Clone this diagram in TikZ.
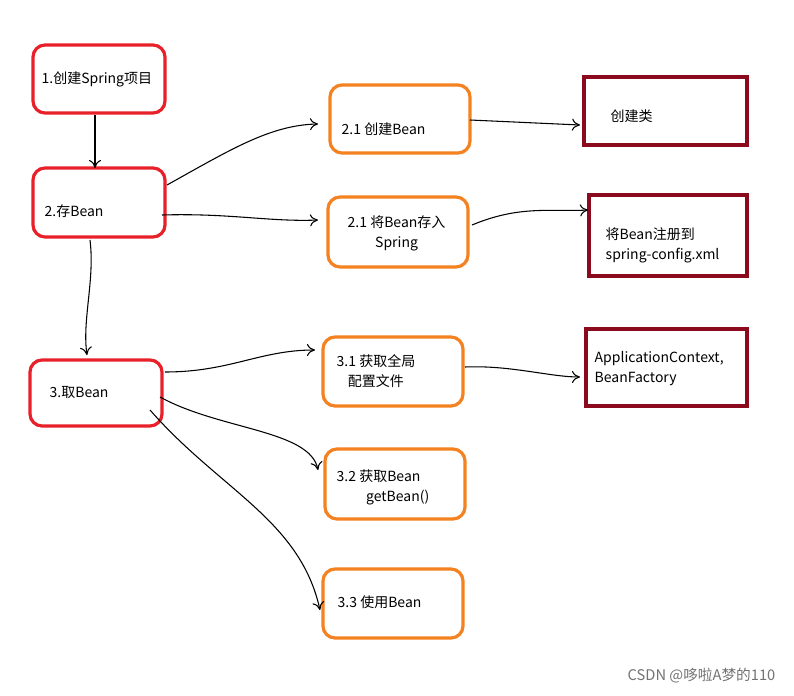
\documentclass[tikz,border=0pt]{standalone}
\usepackage{fontspec}
\setmainfont{Noto Sans CJK SC}
\usetikzlibrary{arrows.meta}
\definecolor{rd}{HTML}{E8202A}
\definecolor{og}{HTML}{F58220}
\definecolor{dr}{HTML}{8B0A1E}
\tikzset{
 px/.style={x=0.75pt,y=-0.75pt},
 redbox/.style={draw=rd,line width=2.4pt,rounded corners=9pt,inner sep=0pt},
 orbox/.style={draw=og,line width=2.4pt,rounded corners=9pt,inner sep=0pt},
 drbox/.style={draw=dr,line width=2.4pt,inner sep=0pt},
 lbl/.style={font=\fontsize{10.5pt}{15pt}\selectfont,align=left,anchor=west},
 conn/.style={line width=0.8pt,-{To[length=6pt,width=9pt]}}
}
\begin{document}
\begin{tikzpicture}[px]
\useasboundingbox (0,0) rectangle (794,696);
\fill[white] (0,0) rectangle (794,696);
% boxes
\draw[redbox] (33,45) rectangle (165,113); \coordinate (n1) at (99,79);
\draw[redbox] (33,168) rectangle (165,237);
\draw[redbox] (30,360) rectangle (162,426);
\draw[orbox] (330,85) rectangle (470,153);
\draw[orbox] (328,197) rectangle (468,267);
\draw[orbox] (323,337) rectangle (463,406);
\draw[orbox] (325,449) rectangle (465,519);
\draw[orbox] (323,569) rectangle (463,638);
\draw[drbox] (584,77) rectangle (747,145);
\draw[drbox] (589,195) rectangle (747,276);
\draw[drbox] (586,329) rectangle (747,406);
% labels
\node[lbl] (t1) at (37,79) {1.创建Spring项目};
\node[lbl] (t2) at (40,211) {2.存Bean};
\node[lbl] (t3) at (45,393) {3.取Bean};
\node[lbl] (t21) at (337,129) {2.1 创建Bean};
\node[lbl,align=center] (t22) at (343,233) {2.1 将Bean存入\\Spring};
\node[lbl,align=center] (t31) at (332,371) {3.1 获取全局\\配置文件};
\node[lbl,align=left] (t32) at (332,487) {3.2 获取Bean\\\hspace{2.1em}getBean()};
\node[lbl] (t33) at (333,602) {3.3 使用Bean};
\node[lbl] (d1) at (606,116) {创建类};
\node[lbl] (d2) at (601,245) {将Bean注册到\\spring-config.xml};
\node[lbl] (d3) at (590,369) {ApplicationContext,\\BeanFactory};
\node[anchor=east,text=black!55,font=\fontsize{11pt}{13pt}\selectfont] (wm) at (780,676) {CSDN @哆啦A梦的110};
% connectors
\coordinate (a1) at (95,115); \coordinate (b1) at (95,168);
\draw[conn] (a1) -- (b1);
\coordinate (a2) at (167,185); \coordinate (b2) at (318,124);
\draw[conn] (a2) .. controls (230,150) and (270,125) .. (b2);
\coordinate (a3) at (162,215); \coordinate (b3) at (318,220);
\draw[conn] (a3) .. controls (230,213) and (270,222) .. (b3);
\coordinate (a4) at (90,240); \coordinate (b4) at (87,355);
\draw[conn] (a4) .. controls (95,280) and (82,320) .. (b4);
\coordinate (a5) at (165,372); \coordinate (b5) at (315,350);
\draw[conn] (a5) .. controls (230,372) and (260,350) .. (b5);
\coordinate (a6) at (160,397); \coordinate (b6) at (318,470);
\draw[conn] (a6) .. controls (220,430) and (310,430) .. (b6);
\coordinate (a7) at (150,410); \coordinate (b7) at (320,610);
\draw[conn] (a7) .. controls (220,490) and (300,520) .. (b7);
\coordinate (a8) at (470,120); \coordinate (b8) at (580,125);
\draw[conn] (a8) -- (b8);
\coordinate (a9) at (472,225); \coordinate (b9) at (588,210);
\draw[conn] (a9) .. controls (520,205) and (550,212) .. (b9);
\coordinate (a10) at (465,367); \coordinate (b10) at (580,377);
\draw[conn] (a10) .. controls (510,365) and (550,377) .. (b10);
\end{tikzpicture}
\end{document}
